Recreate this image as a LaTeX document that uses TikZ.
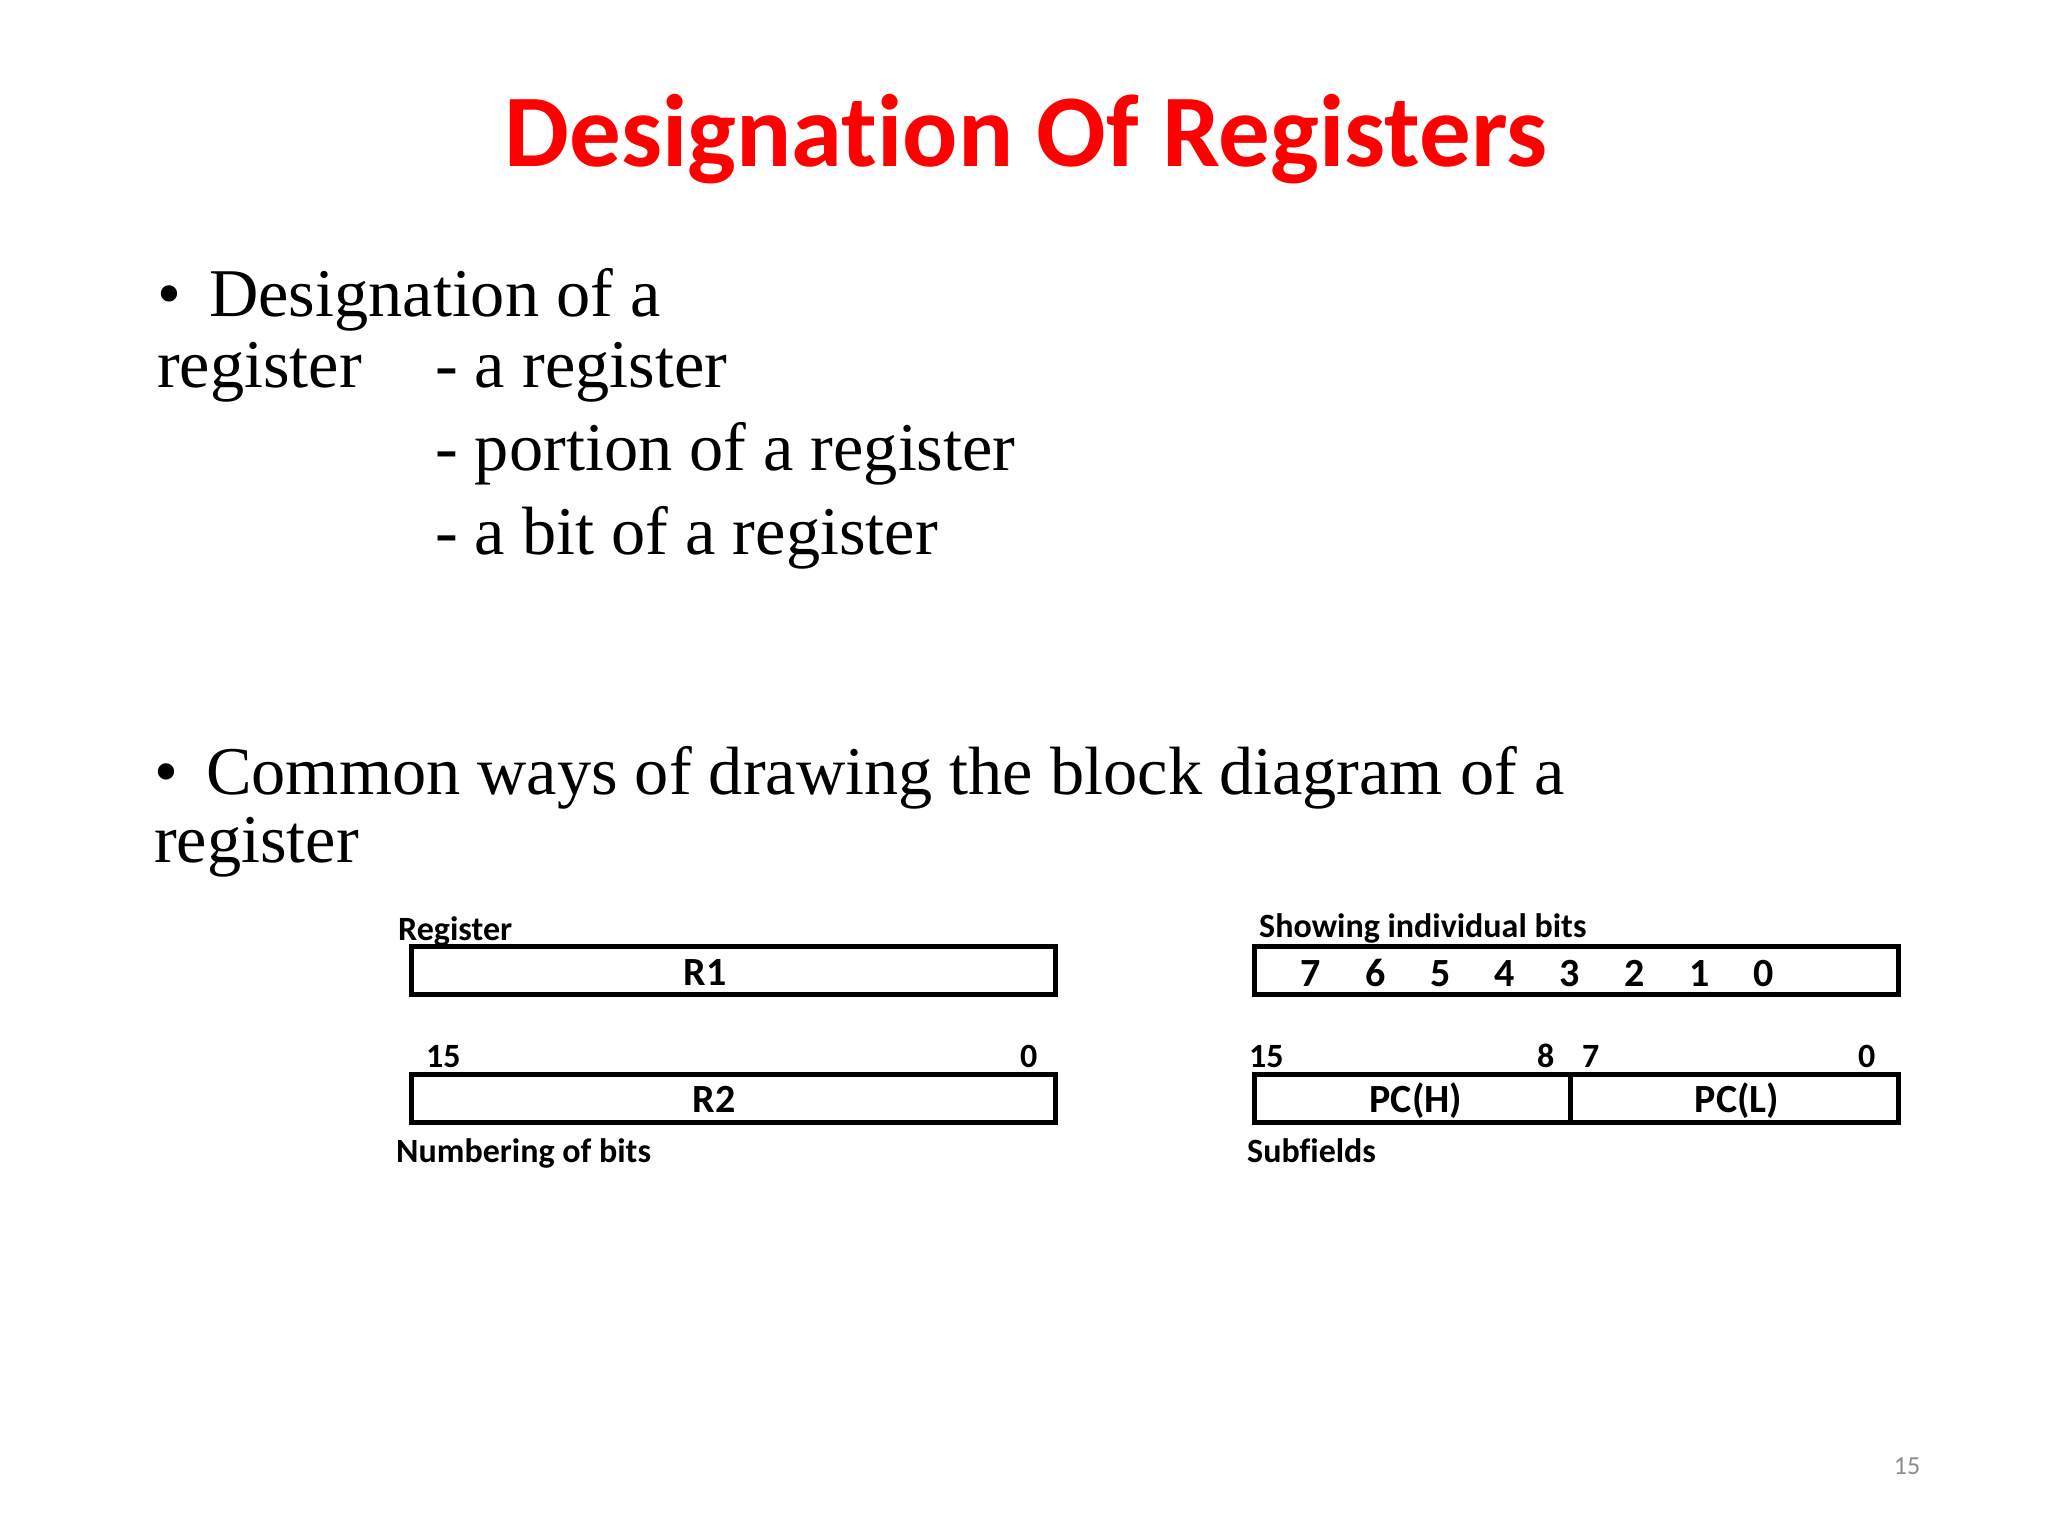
\documentclass[tikz,border=0pt]{standalone}
\usepackage{fontspec}
\setmainfont{Liberation Serif}
\newfontfamily\calfont[Ligatures=NoCommon]{Carlito}
\definecolor{titlered}{RGB}{255,0,0}
\definecolor{pagegrey}{RGB}{140,140,140}
\begin{document}
\begin{tikzpicture}[x=1pt,y=-1pt,
  body/.style={anchor=base west, inner sep=0pt, font=\fontsize{68.3}{82}\selectfont},
  lab/.style={anchor=base west, inner sep=0pt, font=\calfont\bfseries\fontsize{34}{40}\selectfont},
  big/.style={anchor=base, inner sep=0pt, font=\calfont\bfseries\fontsize{40}{48}\selectfont},
  regbox/.style={draw, line width=5pt, inner sep=0pt, minimum height=48pt}
]
\useasboundingbox[fill=white] (0,0) rectangle (2048,1536);

\node[anchor=base, inner sep=0pt, text=titlered, font=\calfont\bfseries\fontsize{103}{115}\selectfont] (title) at (1026,167) {Designation Of Registers};

\node[body] (b1) at (157,316) {•};
\node[body] (t1) at (209,316) {Designation of a};
\node[body] (t2) at (157,387) {register};
\node[body] (t3) at (435,387) {- a register};
\node[body] (t4) at (435,470) {- portion of a register};
\node[body] (t5) at (435,554) {- a bit of a register};

\node[body] (b2) at (154,794) {•};
\node[body] (t6) at (206,794) {Common ways of drawing the block diagram of a};
\node[body] (t7) at (154,862) {register};

% left diagrams
\node[regbox, minimum width=644pt] (r1) at (733,970) {};
\node[lab] (lreg) at (398,940) {Register};
\node[big] (r1t) at (705,985) {R1};

\node[regbox, minimum width=644pt] (r2) at (733,1098) {};
\node[lab] (n15) at (426,1067) {15};
\node[lab] (n0) at (1020,1067) {0};
\node[big] (r2t) at (714,1112) {R2};
\node[lab] (lnum) at (396,1162) {Numbering of bits};

% right diagrams
\node[regbox, minimum width=644pt] (bits) at (1576,970) {};
\node[lab] (lshow) at (1259,937) {Showing individual bits};
\foreach \d [count=\i from 0] in {7,6,5,4,3,2,1,0} {
  \node[big] (bit\d) at (1311+64.7*\i,986) {\d};
}

\node[regbox, minimum width=316pt] (pch) at (1412,1098) {};
\node[regbox, minimum width=328pt] (pcl) at (1734,1098) {};
\node[lab] (m15) at (1249,1067) {15};
\node[lab] (m8) at (1537,1067) {8};
\node[lab] (m7) at (1582,1067) {7};
\node[lab] (m0) at (1858,1067) {0};
\node[big] (pcht) at (1416,1112) {PC(H)};
\node[big] (pclt) at (1737,1112) {PC(L)};
\node[lab] (lsub) at (1247,1162) {Subfields};

\node[anchor=base, inner sep=0pt, text=pagegrey, font=\calfont\fontsize{26}{30}\selectfont] (pg) at (1907,1474) {15};
\end{tikzpicture}
\end{document}
